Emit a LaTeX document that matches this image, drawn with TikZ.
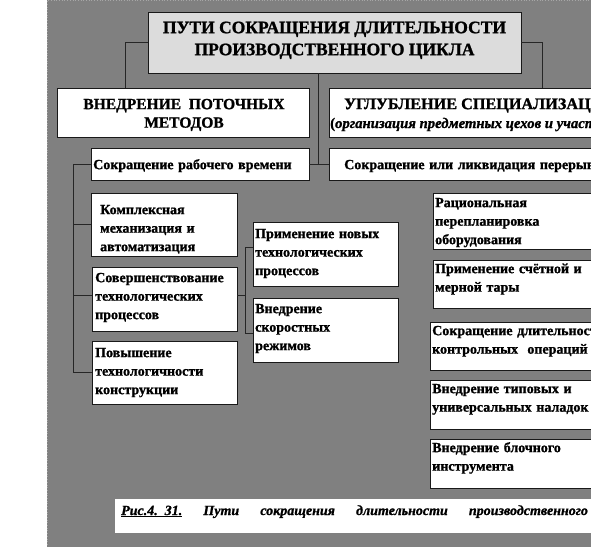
\documentclass[tikz,border=0pt]{standalone}
\usepackage{fontspec}
\setmainfont[BoldFeatures={FakeBold=1.2},BoldItalicFeatures={FakeBold=1.2}]{Liberation Serif}
\usetikzlibrary{calc}
\setlength\parindent{0pt}
\definecolor{bggray}{HTML}{808080}
\definecolor{titlefill}{HTML}{DCDCDC}
\tikzset{
  box/.style={draw=black!90, line width=0.9pt, fill=white, anchor=north west, inner sep=0pt, outer sep=0pt},
  conn/.style={draw=black!85, line width=0.8pt},
  sm/.style={anchor=north west, inner sep=0pt, align=left, text width=400pt, font=\bfseries\fontsize{14}{18.5}\selectfont},
  big/.style={anchor=north, inner sep=0pt, align=center, font=\bfseries\fontsize{15.5}{18.5}\selectfont},
}
\begin{document}
\begin{tikzpicture}[x=1pt,y=-1pt]
\useasboundingbox (0,0) rectangle (591,546);
\clip (0,0) rectangle (591,546);
\fill[white] (0,0) rectangle (591,546);
\fill[bggray] (47,0) rectangle (600,550);
\draw[black!35, dotted, line width=0.7pt] (47,550) -- (47,0.5) -- (600,0.5);

% boxes
\node[box, fill=titlefill, minimum width=373pt, minimum height=61pt] (title) at (148,12) {};
\node[box, minimum width=252pt, minimum height=49pt] (lm) at (57,88) {};
\node[box, minimum width=400pt, minimum height=49pt] (rm) at (329,88) {};
\node[box, minimum width=218pt, minimum height=32pt] (srv) at (91,148) {};
\node[box, minimum width=400pt, minimum height=32pt] (slp) at (329,148) {};
\node[box, minimum width=146pt, minimum height=63pt] (kma) at (91,193) {};
\node[box, minimum width=145pt, minimum height=64pt] (stp) at (92,267) {};
\node[box, minimum width=145pt, minimum height=63pt] (ptk) at (92,341) {};
\node[box, minimum width=145pt, minimum height=64pt] (pnt) at (253,222) {};
\node[box, minimum width=145pt, minimum height=64pt] (vsr) at (253,298) {};
\node[box, minimum width=300pt, minimum height=56pt] (rpo) at (433,193) {};
\node[box, minimum width=300pt, minimum height=48pt] (pst) at (433,260) {};
\node[box, minimum width=300pt, minimum height=48pt] (sdk) at (430,322) {};
\node[box, minimum width=300pt, minimum height=49pt] (vtu) at (430,380) {};
\node[box, minimum width=300pt, minimum height=49pt] (vbi) at (430,439) {};
\node[box, draw=none, minimum width=600pt, minimum height=34pt] (cap) at (115,499) {};

% connectors
\draw[conn] (title.west) -| ($(lm.north west)+(68,0)$);
\draw[conn] (title.east) -| ($(rm.north west)+(213,0)$);
\coordinate (c0) at ($(title.south west)+(170,0)$);
\draw[conn] (c0) -- (c0 |- srv.east);
\draw[conn] (srv.east) -- (slp.west);
\coordinate (ls) at (73,0);
\draw[conn] (srv.west) -- (srv.west -| ls) -- (ptk.west -| ls) -- (ptk.west);
\draw[conn] (kma.west) -- (kma.west -| ls);
\coordinate (s1) at ($(stp.north west)+(0,28)$);
\draw[conn] (s1) -- (s1 -| ls);
\coordinate (ms) at (245,0);
\coordinate (s2) at ($(stp.north east)+(0,28)$);
\coordinate (p1) at ($(pnt.north west)+(0,25)$);
\coordinate (p2) at ($(vsr.north west)+(0,35)$);
\draw[conn] (s2) -- (s2 -| ms);
\draw[conn] (p1) -- (p1 -| ms) -- (p2 -| ms) -- (p2);

% texts
\node[anchor=north, inner sep=0pt, align=center, font=\bfseries\fontsize{17.5}{22}\selectfont] (title-t) at (334.5,17.6) {\strut ПУТИ СОКРАЩЕНИЯ ДЛИТЕЛЬНОСТИ\\ПРОИЗВОДСТВЕННОГО ЦИКЛА};
\node[big] (lm-t) at (184,96) {\strut ВНЕДРЕНИЕ\ \ ПОТОЧНЫХ\\МЕТОДОВ};
\node[big, anchor=north west, font=\bfseries\fontsize{16.2}{18.5}\selectfont] (rm-t1) at (344,96) {\strut УГЛУБЛЕНИЕ СПЕЦИАЛИЗАЦИИ};
\node[anchor=base west, inner sep=0pt, font=\bfseries\fontsize{14.7}{16}\selectfont] (rm-t2) at (330,128) {(\textit{организация предметных цехов и участков})};
\node[sm] (srv-t) at (93,156) {\strut Сокращение рабочего времени};
\node[sm] (slp-t) at (344,156) {\strut Сокращение или ликвидация перерывов};
\node[sm] (kma-t) at (100,201) {\strut Комплексная\\\makebox[127pt][s]{механизация и}\\автоматизация};
\node[sm] (stp-t) at (95,269) {\strut Совершенствование\\технологических\\процессов};
\node[sm] (ptk-t) at (95,344) {\strut Повышение\\технологичности\\конструкции};
\node[sm] (pnt-t) at (255,225) {\strut \makebox[141pt][s]{Применение новых}\\технологических\\процессов};
\node[sm] (vsr-t) at (255,300) {\strut Внедрение\\скоростных\\режимов};
\node[sm] (rpo-t) at (435,194) {\strut Рациональная\\перепланировка\\оборудования};
\node[sm] (pst-t) at (435,260) {\strut \makebox[175pt][s]{Применение счётной и}\\мерной тары};
\node[sm] (sdk-t) at (432,322) {\strut \makebox[168pt][s]{Сокращение длительности}\\контрольных\ \ операций};
\node[sm] (vtu-t) at (432,380) {\strut \makebox[157pt][s]{Внедрение типовых и}\\универсальных наладок};
\node[sm] (vbi-t) at (432,439) {\strut \makebox[176pt][s]{Внедрение блочного}\\инструмента};
\node[anchor=base west, inner sep=0pt, font=\bfseries\itshape\fontsize{14}{16}\selectfont] (cap-t) at (121,515) {\makebox[525pt][s]{\underline{Рис.4.\ \ 31.} Пути сокращения длительности производственного цикла}};
\end{tikzpicture}
\end{document}
